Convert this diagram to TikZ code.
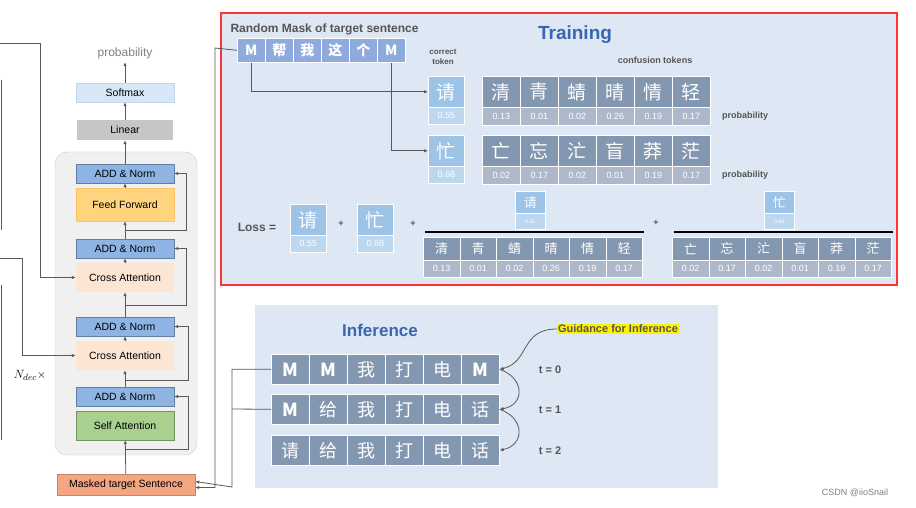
\documentclass[tikz,border=0pt]{standalone}
\usepackage{fontspec}
\setmainfont{Liberation Sans}
\newfontfamily\cjk{Noto Sans CJK SC}
\usetikzlibrary{arrows.meta}
\definecolor{panel}{HTML}{DDE8F4}
\definecolor{tokA}{HTML}{8497B0}
\definecolor{prbA}{HTML}{ADB9CA}
\definecolor{tokB}{HTML}{9DC3E6}
\definecolor{prbB}{HTML}{BDD7EE}
\definecolor{tokM}{HTML}{8FAADC}
\definecolor{addn}{HTML}{8EB4E3}
\definecolor{ff}{HTML}{FFD47F}
\definecolor{cross}{HTML}{FCE5D3}
\definecolor{selfa}{HTML}{A9D08E}
\definecolor{mts}{HTML}{F4A582}
\definecolor{txtg}{HTML}{555555}
\definecolor{ttlc}{HTML}{3A66B0}
\begin{document}
\begin{tikzpicture}[x=1pt,y=-1pt,
  lay/.style={minimum width=98pt,inner sep=0,font=\fontsize{10.5}{12}\selectfont},
  ln/.style={draw=black!65,line width=0.8pt},
  arr/.style={ln,-{Latex[length=4pt,width=3.5pt]}},
  cell/.style={draw=white,line width=0.6pt,inner sep=0,text=white,anchor=north west},
  prob/.style={cell,font=\fontsize{9}{10}\selectfont},
  lbl/.style={text=txtg,font=\bfseries\fontsize{9}{10}\selectfont}]
\useasboundingbox (0,0) rectangle (916,508);
\fill[white] (0,0) rectangle (916,508);
% left cut-off
\draw[ln] (1,80) -- (1,230) (1,285) -- (1,440);
% decoder
\fill[gray!12,draw=gray!40,rounded corners=12pt] (55,152) rectangle (197,455);
\node[text=gray,font=\fontsize{12}{14}\selectfont] (prob) at (125,53) {probability};
\node[lay,fill=prbB!60,draw=prbB,minimum height=19pt] (soft) at (125,92.5) {Softmax};
\node[lay,fill=gray!45,minimum height=20pt,minimum width=96pt] (lin) at (125,130) {Linear};
\node[lay,fill=addn,draw=addn!70!black,minimum height=19pt] (an1) at (125,173.5) {ADD \& Norm};
\node[lay,fill=ff,draw=ff!80!orange,minimum height=33pt] (ffn) at (125,204.5) {Feed Forward};
\node[lay,fill=addn,draw=addn!70!black,minimum height=19pt] (an2) at (125,248.5) {ADD \& Norm};
\node[lay,fill=cross,minimum height=29pt] (ca1) at (125,277.5) {Cross Attention};
\node[lay,fill=addn,draw=addn!70!black,minimum height=19pt] (an3) at (125,326.5) {ADD \& Norm};
\node[lay,fill=cross,minimum height=29pt] (ca2) at (125,355.5) {Cross Attention};
\node[lay,fill=addn,draw=addn!70!black,minimum height=19pt] (an4) at (125,396.5) {ADD \& Norm};
\node[lay,fill=selfa,draw=selfa!70!black,minimum height=29pt] (sa) at (125,425.5) {Self Attention};
\node[lay,fill=mts,draw=mts!80!black,minimum height=21pt,minimum width=138pt] (mts) at (126,484.5) {Masked target Sentence};
\node[font=\fontsize{13}{15}\selectfont] (ndec) at (30,375) {$N_{dec}\times$};
\draw[arr] (soft) -- (prob);
\draw[arr] (lin) -- (soft);
\draw[arr] (an1) -- (lin);
\draw[arr] (ffn) -- (an1);
\draw[arr] (an2) -- (ffn);
\draw[arr] (ca1) -- (an2);
\draw[arr] (an3) -- (ca1);
\draw[arr] (ca2) -- (an3);
\draw[arr] (an4) -- (ca2);
\draw[arr] (mts) -- (sa);
\draw[arr] (125,230) -| (186,173.5) -- (an1);
\draw[arr] (125,305) -| (186,248.5) -- (an2);
\draw[arr] (125,380) -| (188,326.5) -- (an3);
\draw[arr] (125,449) -| (188,396.5) -- (an4);
\coordinate (in1) at (0,43);
\coordinate (in2) at (0,258);
\draw[arr] (in1) -- (40,43) |- (ca1.west);
\draw[arr] (in2) -- (22,258) |- (ca2.west);
% training panel
\fill[panel] (221,13) rectangle (897,285);
\draw[red!80,line width=1.6pt] (221,13) rectangle (897,285);
\node[text=ttlc,font=\bfseries\fontsize{19}{21}\selectfont] (ttl) at (575,35) {Training};
\node[text=txtg,font=\bfseries\fontsize{12}{14}\selectfont,anchor=west] (rm) at (227,29) {Random Mask of target sentence};
\foreach \t [count=\i] in {M,帮,我,这,个,M}{
  \node[cell,fill=tokM,minimum width=28pt,minimum height=24pt,font=\cjk\bfseries\fontsize{14}{14}\selectfont] (m\i) at (237+28*\i-28,38) {\t};}
\node[lbl,align=center,font=\fontsize{8}{10}\selectfont\bfseries] (ct) at (443,57) {correct\\token};
\node[lbl] (cf) at (655,60) {confusion tokens};
% rows
\foreach \r/\y/\ct/\cp/\toks/\probs in {1/76/请/0.55/{清,青,蜻,晴,情,轻}/{0.13,0.01,0.02,0.26,0.19,0.17},2/135/忙/0.68/{亡,忘,汒,盲,莽,茫}/{0.02,0.17,0.02,0.01,0.19,0.17}}{
  \node[cell,fill=tokB,minimum width=36pt,minimum height=31pt,font=\cjk\fontsize{19}{19}\selectfont] (c\r) at (428,\y) {\ct};
  \node[prob,fill=prbB,minimum width=36pt,minimum height=17pt] (cp\r) at (428,\y+31) {\cp};
  \foreach \t [count=\i] in \toks{
    \node[cell,fill=tokA,minimum width=38pt,minimum height=31pt,font=\cjk\fontsize{19}{19}\selectfont] (f\r\i) at (482+38*\i-38,\y) {\t};}
  \foreach \p [count=\i] in \probs{
    \node[prob,fill=prbA,minimum width=38pt,minimum height=18pt] (p\r\i) at (482+38*\i-38,\y+31) {\p};}
  \node[lbl] (pl\r) at (745,\y+40) {probability};
}
\draw[arr] (m1.south) |- (c1.west);
\draw[arr] (m6.south) |- (c2.west);
% loss
\node[text=txtg,font=\bfseries\fontsize{12}{14}\selectfont] (loss) at (257,227) {Loss =};
\node[cell,fill=tokB,minimum width=36pt,minimum height=31pt,font=\cjk\fontsize{19}{19}\selectfont] (l1) at (290,204) {请};
\node[prob,fill=prbB,minimum width=36pt,minimum height=17pt] (lp1) at (290,235) {0.55};
\node[lbl] (pa) at (341,224) {+};
\node[cell,fill=tokB,minimum width=36pt,minimum height=31pt,font=\cjk\fontsize{19}{19}\selectfont] (l2) at (357,204) {忙};
\node[prob,fill=prbB,minimum width=36pt,minimum height=17pt] (lp2) at (357,235) {0.68};
\node[lbl] (pb) at (413,224) {+};
\node[lbl] (pc) at (656,223) {+};
\foreach \r/\x/\ct/\cp/\toks/\probs in {1/423/请/0.55/{清,青,蜻,晴,情,轻}/{0.13,0.01,0.02,0.26,0.19,0.17},2/672/忙/0.68/{亡,忘,汒,盲,莽,茫}/{0.02,0.17,0.02,0.01,0.19,0.17}}{
  \node[cell,fill=tokB,minimum width=30pt,minimum height=22pt,font=\cjk\fontsize{13}{13}\selectfont] (n\r) at (\x+92,191) {\ct};
  \node[prob,fill=prbB,minimum width=30pt,minimum height=16pt,font=\fontsize{5}{6}\selectfont] (np\r) at (\x+92,213) {\cp};
  \draw[black,line width=1.4pt] (\x+2,232) coordinate (fa\r) -- (\x+221,232) coordinate (fb\r);
  \foreach \t [count=\i] in \toks{
    \node[cell,fill=tokA,minimum width=36.5pt,minimum height=23pt,font=\cjk\fontsize{13}{13}\selectfont] (d\r\i) at (\x+36.5*\i-36.5,237) {\t};}
  \foreach \p [count=\i] in \probs{
    \node[prob,fill=prbA,minimum width=36.5pt,minimum height=17pt] (dp\r\i) at (\x+36.5*\i-36.5,260) {\p};}
}
% inference panel
\fill[panel] (255,305) rectangle (718,488);
\node[text=ttlc,font=\bfseries\fontsize{17}{19}\selectfont] (inf) at (380,330) {Inference};
\foreach \r/\y/\toks in {1/354/{\textbf{M},\textbf{M},我,打,电,\textbf{M}},2/394/{\textbf{M},给,我,打,电,话},3/435/{请,给,我,打,电,话}}{
  \foreach \t [count=\i] in \toks{
    \node[cell,fill=tokA,minimum width=38pt,minimum height=30pt,font=\cjk\fontsize{18}{18}\selectfont] (r\r\i) at (271+38*\i-38,\y) {\t};}
}
\node[lbl,font=\bfseries\fontsize{11}{12}\selectfont] (t0) at (550,370) {t = 0};
\node[lbl,font=\bfseries\fontsize{11}{12}\selectfont] (t1) at (550,410) {t = 1};
\node[lbl,font=\bfseries\fontsize{11}{12}\selectfont] (t2) at (550,451) {t = 2};
\node[fill=yellow,text=txtg,inner sep=1pt,font=\bfseries\fontsize{11}{12}\selectfont] (gd) at (618,329) {Guidance for Inference};
\draw[arr] (gd.west) .. controls (520,329) and (530,362) .. (r16.east);
\draw[arr] (r16.east) .. controls (525,378) and (525,405) .. (r26.east);
\draw[arr] (r26.east) .. controls (525,418) and (525,445) .. (r36.east);
% feeds from masked target sentence
\draw[arr] (m1.west) -- (215,48) |- ([yshift=-3pt]mts.east);
\draw[arr] (r11.west) -| (232,487) -- ([yshift=3pt]mts.east);
\draw[ln] (r21.west) -- (232,409);
\node[text=gray,font=\fontsize{9}{10}\selectfont] (wm) at (855,493) {CSDN @iioSnail};
\end{tikzpicture}
\end{document}
